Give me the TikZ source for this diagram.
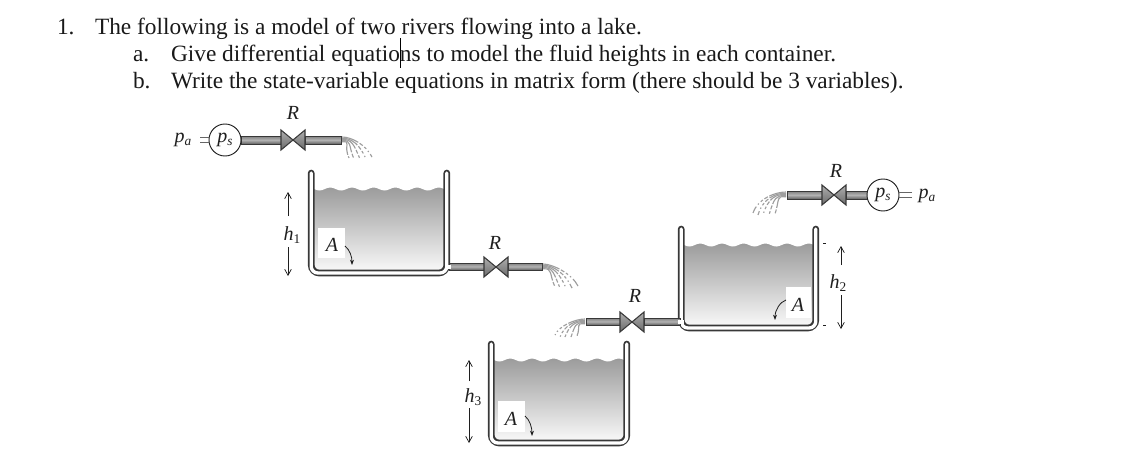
\documentclass[tikz,border=0pt]{standalone}
\usepackage{fontspec}
\setmainfont{Liberation Serif}
\usetikzlibrary{arrows.meta}
\definecolor{wallc}{gray}{0.22}
\definecolor{inkc}{gray}{0.12}
\newcommand{\subsym}[2]{{\itshape #1}\raisebox{-2.2pt}{\fontsize{10}{10}\selectfont #2}}
\newcommand{\wavedown}{.. controls +(4,2) and +(-4,2) .. ++(10.85,0)}
\newcommand{\waveup}{.. controls +(4,-2) and +(-4,-2) .. ++(10.85,0)}
\tikzset{
  every node/.style={inner sep=0pt,outer sep=0pt},
  txt/.style={anchor=base west,font=\fontsize{17.5}{19}\selectfont,text=black!90},
  sym/.style={font=\fontsize{15}{17}\selectfont\itshape,text=inkc},
  pipebody/.style={draw=wallc,line width=0.6pt,top color=black!50,bottom color=black!62,middle color=black!30},
  valveside/.style={draw=wallc,line width=0.8pt,top color=black!32,bottom color=black!58},
  wallout/.style={line width=5pt,draw=wallc,line cap=round,rounded corners=6pt},
  wallin/.style={line width=2.5pt,draw=white,line cap=round,rounded corners=5pt},
  dimarrow/.style={draw=inkc,line width=0.55pt,-{Straight Barb[length=4.5pt,width=5pt]}},
  areaarrow/.style={draw=inkc,line width=0.6pt,-{Stealth[length=4pt,width=3pt]}},
  spray/.style={draw=black!38,line width=0.85pt,dash pattern=on 13pt off 1.2pt on 3pt off 1.5pt on 2pt off 2pt on 1pt off 2pt},
  labelbox/.style={fill=white,draw=none},
}
\newcommand{\tankshape}[5]{%
  \fill[top color=black!40,bottom color=black!3]
    (#1+6,#4-4) -- (#1+6,#5-6) -- (#2-6,#5-6) -- (#2-6,#4-4) -- cycle;
  \fill[white] (#1+6,#4-5) -- (#1+6,#4)
      \wavedown\waveup\wavedown\waveup\wavedown\waveup
      \wavedown\waveup\wavedown\waveup\wavedown\waveup
      -- (#2-6,#4) -- (#2-6,#4-5) -- cycle;
  \draw[wallout] (#1+3.2,#3+2) -- (#1+3.2,#5-3) -- (#2-3.2,#5-3) -- (#2-3.2,#3+2);
  \draw[wallin] (#1+3.2,#3+2) -- (#1+3.2,#5-3) -- (#2-3.2,#5-3) -- (#2-3.2,#3+2);
}
\newcommand{\valveshape}[3]{%
  \draw[valveside] (#2-12,#3-10) -- (#2,#3) -- (#2-12,#3+10) -- cycle;
  \draw[valveside] (#2+12,#3-10) -- (#2,#3) -- (#2+12,#3+10) -- cycle;
  \coordinate (#1) at (#2,#3);
}
\begin{document}
\begin{tikzpicture}[x=0.75pt,y=-0.75pt]
\useasboundingbox (0,0) rectangle (1135,471);
\fill[white] (0,0) rectangle (1135,471);

\node[txt] (n1) at (57,34) {1.};
\node[txt] (t1) at (95,34) {The following is a model of two rivers flowing into a lake.};
\node[txt] (na) at (133,61) {a.};
\node[txt] (ta) at (171,61) {Give differential equations to model the fluid heights in each container.};
\node[txt] (nb) at (133,88) {b.};
\node[txt] (tb) at (171,88) {Write the state-variable equations in matrix form (there should be 3 variables).};
\coordinate (curT) at (400.7,38);
\coordinate (curB) at (400.7,68);
\draw[black,line width=0.7pt] (curT) -- (curB);

\tankshape{308}{450}{171}{189}{276}
\tankshape{678}{819}{227}{245}{331}
\tankshape{488}{630}{342}{360}{446}

\draw[pipebody] (241,136) rectangle (281,144);
\draw[pipebody] (305,136) rectangle (341,144);
\draw[pipebody] (449,263) rectangle (484,270);
\draw[pipebody] (508,263) rectangle (542,270);
\draw[pipebody] (644,318) rectangle (680,325);
\draw[pipebody] (586,318) rectangle (620,325);
\draw[pipebody] (787,191) rectangle (822,199);
\draw[pipebody] (846,191) rectangle (867,199);
\fill[white] (445,264.5) rectangle (451,268.5);
\fill[white] (678,319.5) rectangle (684,323.5);

\valveshape{v1}{293}{140}
\valveshape{v2}{496}{267}
\valveshape{v3}{632}{322}
\valveshape{v4}{834}{195}

\foreach \a/\b/\o in {372/157/0,366/159/1,360/159/2,354/159/3,349/158/4}
  \draw[spray] (342,137+\o*1.2) .. controls (352,137+\o) and (\a-6,145) .. (\a,\b);
\foreach \a/\b/\o in {578/286/0,572/288/1,566/288/2,560/288/3,555/287/4}
  \draw[spray] (543,264+\o*1.2) .. controls (553,264+\o) and (\a-6,274) .. (\a,\b);
\foreach \a/\b/\o in {555/335/0,560/337/1,565/337/2,571/337/3,577/336/4}
  \draw[spray] (585,319+\o*1.2) .. controls (575,319+\o) and (\a+4,326) .. (\a,\b);
\foreach \a/\b/\o in {753/213/0,758/215/1,763/215/2,769/215/3,775/214/4}
  \draw[spray] (786,192+\o*1.2) .. controls (776,192+\o) and (\a+5,198) .. (\a,\b);

\node[circle,draw=inkc,line width=0.7pt,fill=white,minimum size=24pt,sym] (ps1) at (225,140) {\subsym{p}{s}};
\node[circle,draw=inkc,line width=0.7pt,fill=white,minimum size=24pt,sym] (ps2) at (883,195) {\subsym{p}{s}};
\coordinate (a1) at (200,137.5);\coordinate (a1b) at (200,142.5);
\draw[black!60,line width=1.3pt] (a1) -- (a1-|ps1.west) (a1b) -- (a1b-|ps1.west);
\coordinate (a2) at (912,192.5);\coordinate (a2b) at (912,197.5);
\draw[black!60,line width=1.3pt] (a2) -- (a2-|ps2.east) (a2b) -- (a2b-|ps2.east);
\node[sym] (pa1) at (183,140) {\subsym{p}{a}};
\node[sym] (pa2) at (927,196) {\subsym{p}{a}};

\node[sym] (r1) at (293,113) {R};
\node[sym] (r2) at (495,243) {R};
\node[sym] (r3) at (635,296) {R};
\node[sym] (r4) at (836,171) {R};

\fill[labelbox] (318,228) rectangle (345,258);
\fill[labelbox] (786,287) rectangle (811,318);
\fill[labelbox] (498,401) rectangle (525,432);
\node[sym] (A1) at (332,245) {A};
\node[sym] (A2) at (798,305) {A};
\node[sym] (A3) at (511,419) {A};
\coordinate (A1e) at (352,265); \coordinate (A2e) at (775,320); \coordinate (A3e) at (532,436);
\draw[areaarrow] (345,246) .. controls (350,250) and (352,257) .. (A1e);
\draw[areaarrow] (786,300) .. controls (780,302) and (775,310) .. (A2e);
\draw[areaarrow] (525,416) .. controls (530,420) and (532,428) .. (A3e);

\node[sym] (h1) at (292,235) {\subsym{h}{\upshape 1}};
\node[sym] (h2) at (838,283) {\subsym{h}{\upshape 2}};
\node[sym] (h3) at (473,397) {\subsym{h}{\upshape 3}};
\coordinate (h1t) at (288,192); \coordinate (h1b) at (288,276);
\coordinate (h2t) at (841,246); \coordinate (h2b) at (841,329);
\coordinate (h3t) at (469,360); \coordinate (h3b) at (469,443);
\draw[dimarrow] (288,216) -- (h1t);
\draw[dimarrow] (288,247) -- (h1b);
\draw[dimarrow] (841,265) -- (h2t);
\draw[dimarrow] (841,295) -- (h2b);
\draw[dimarrow] (469,381) -- (h3t);
\draw[dimarrow] (469,408) -- (h3b);
\draw[inkc,line width=0.6pt] (823,243) -- (826,243) (823,325) -- (826,325);
\end{tikzpicture}
\end{document}
